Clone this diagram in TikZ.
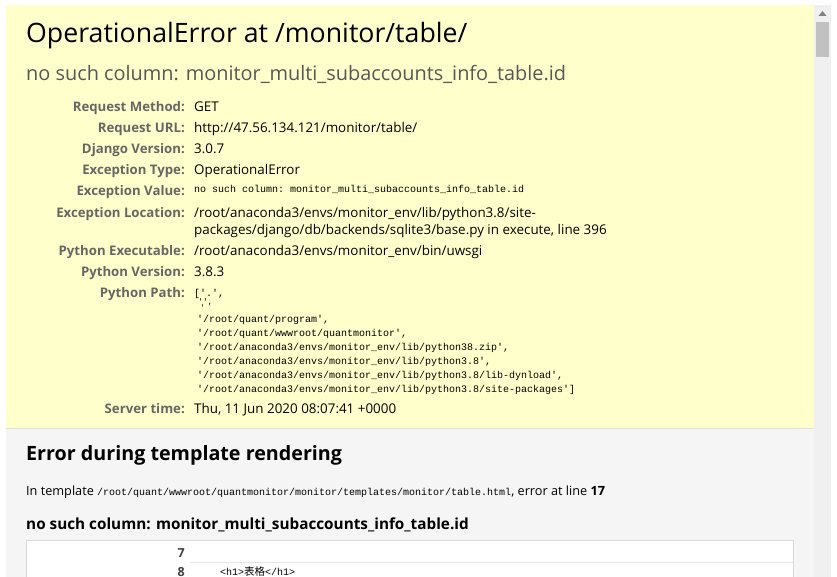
\documentclass[tikz,border=0pt]{standalone}
\usepackage{fontspec}
\setmainfont{Open Sans}
\setmonofont{Liberation Mono}
\newfontfamily\cjk{Noto Sans CJK SC}
\definecolor{yel}{HTML}{FFFFCC}
\definecolor{lab}{HTML}{666666}
\definecolor{sub}{HTML}{575757}
\definecolor{grayb}{HTML}{F5F5F5}
\definecolor{sbar}{HTML}{F0F0F0}
\definecolor{thumb}{HTML}{C1C1C1}
\begin{document}
\begin{tikzpicture}[x=1pt,y=-1pt,
 lbl/.style={anchor=base east,text=lab,font=\fontsize{13.2}{15}\selectfont\bfseries,inner sep=0},
 val/.style={anchor=base west,font=\fontsize{13.4}{15}\selectfont,inner sep=0},
 mono/.style={anchor=base west,font=\fontsize{10}{11}\ttfamily,inner sep=0}]
\useasboundingbox (0,0) rectangle (837,577);
\fill[white] (0,0) rectangle (837,577);
\fill[yel] (6,5) rectangle (814,428);
\fill[grayb] (6,428) rectangle (814,577);
\draw[black!12] (6,428.5) -- (814,428.5);
\fill[sbar] (814,5) rectangle (831,577);
\fill[thumb] (816,22) rectangle (829,57);
\fill[gray] (818.5,16) -- (826.5,16) -- (822.5,11) -- cycle;
\node[anchor=base west,inner sep=0,font=\fontsize{26.7}{30}\selectfont] (t) at (26,43) {OperationalError at /monitor/table/};
\node[anchor=base west,inner sep=0,text=sub,font=\fontsize{19.9}{22}\selectfont] (s) at (26,81) {no such column: monitor\_multi\_subaccounts\_info\_table.id};
\node[lbl] (l1) at (185,112) {Request Method:}; \node[val] (v1) at (194,112) {GET};
\node[lbl] (l2) at (185,133) {Request URL:}; \node[val] (v2) at (194,133) {http://47.56.134.121/monitor/table/};
\node[lbl] (l3) at (185,154) {Django Version:}; \node[val] (v3) at (194,154) {3.0.7};
\node[lbl] (l4) at (185,175) {Exception Type:}; \node[val] (v4) at (194,175) {OperationalError};
\node[lbl] (l5) at (185,196) {Exception Value:}; \node[mono] (v5) at (194,193) {no such column: monitor\_multi\_subaccounts\_info\_table.id};
\node[lbl] (l6) at (185,218) {Exception Location:}; \node[val] (v6) at (194,218) {/root/anaconda3/envs/monitor\_env/lib/python3.8/site-};
\node[val] (v6b) at (194,234) {packages/django/db/backends/sqlite3/base.py in execute, line 396};
\node[lbl] (l7) at (185,255) {Python Executable:}; \node[val] (v7) at (194,255) {/root/anaconda3/envs/monitor\_env/bin/uwsgi};
\node[lbl] (l8) at (185,276) {Python Version:}; \node[val] (v8) at (194,276) {3.8.3};
\node[lbl] (l9) at (185,297) {Python Path:};
\node[mono] (p1) at (194,296) {['.',};
\node[mono,font=\fontsize{8}{9}\ttfamily] (p2) at (198,304) {'',};
\node[mono,font=\fontsize{8}{9}\ttfamily] (p3) at (200,310) {'};
\node[mono] (p4) at (197,322) {'/root/quant/program',};
\node[mono] (p5) at (197,336) {'/root/quant/wwwroot/quantmonitor',};
\node[mono] (p6) at (197,350) {'/root/anaconda3/envs/monitor\_env/lib/python38.zip',};
\node[mono] (p7) at (197,364) {'/root/anaconda3/envs/monitor\_env/lib/python3.8',};
\node[mono] (p8) at (197,378) {'/root/anaconda3/envs/monitor\_env/lib/python3.8/lib-dynload',};
\node[mono] (p9) at (197,392) {'/root/anaconda3/envs/monitor\_env/lib/python3.8/site-packages']};
\node[lbl] (l10) at (185,413) {Server time:}; \node[val] (v10) at (194,413) {Thu, 11 Jun 2020 08:07:41 +0000};
\node[anchor=base west,inner sep=0,font=\fontsize{19.7}{22}\selectfont\bfseries] (h2) at (26,460) {Error during template rendering};
\node[anchor=base west,inner sep=0,font=\fontsize{12.7}{14}\selectfont] (it) at (26,495) {In template \texttt{\fontsize{10}{11}\selectfont /root/quant/wwwroot/quantmonitor/monitor/templates/monitor/table.html}, error at line \textbf{17}};
\node[anchor=base west,inner sep=0,font=\fontsize{15.3}{17}\selectfont\bfseries] (h3) at (26,529) {no such column: monitor\_multi\_subaccounts\_info\_table.id};
\fill[white,draw=black!15] (26.5,540.5) rectangle (793.5,580);
\draw[black!10] (190,562.5) -- (793,562.5);
\node[anchor=base east,inner sep=0,font=\fontsize{12.5}{14}\selectfont\bfseries,text=black!75] (n7) at (185,557) {7};
\node[anchor=base east,inner sep=0,font=\fontsize{12.5}{14}\selectfont\bfseries,text=black!75] (n8) at (185,576) {8};
\node[mono] (c8) at (220,575) {<h1>{\cjk\fontsize{10.5}{11}\selectfont 表格}</h1>};
\end{tikzpicture}
\end{document}
